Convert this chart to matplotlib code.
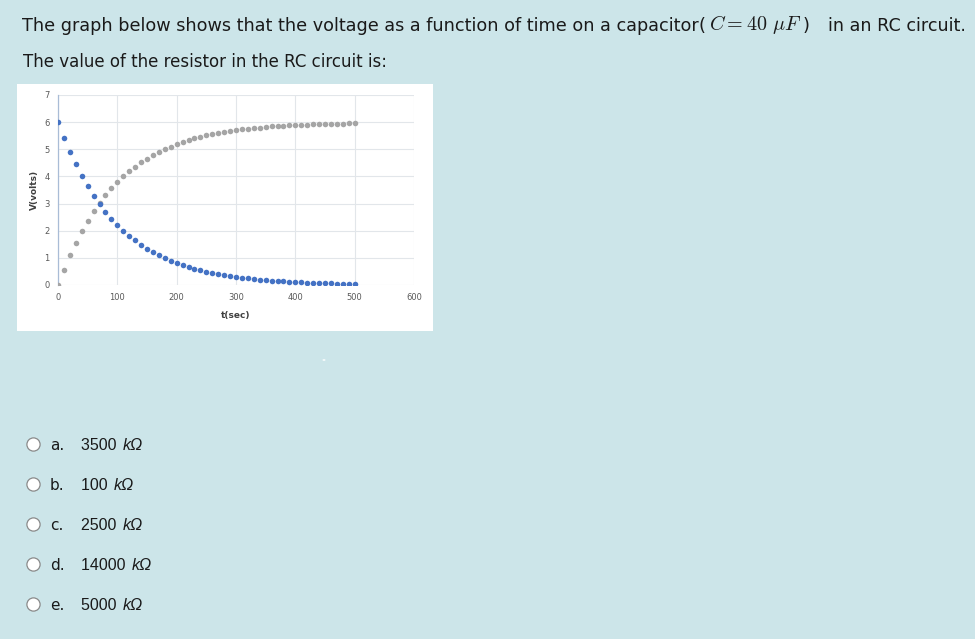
import matplotlib
matplotlib.use("Agg")
import matplotlib.pyplot as plt
from matplotlib.patches import Rectangle, Circle

# ---- data ----
t_sec = [0, 10, 20, 30, 40, 50, 60, 70, 80, 90,
         100, 110, 120, 130, 140, 150, 160, 170, 180, 190,
         200, 210, 220, 230, 240, 250, 260, 270, 280, 290,
         300, 310, 320, 330, 340, 350, 360, 370, 380, 390,
         400, 410, 420, 430, 440, 450, 460, 470, 480, 490, 500]
v_discharge = [6.00, 5.43, 4.91, 4.44, 4.02, 3.64, 3.29, 2.98, 2.70, 2.44,
               2.21, 2.00, 1.81, 1.64, 1.48, 1.34, 1.21, 1.10, 0.99, 0.90,
               0.81, 0.73, 0.66, 0.60, 0.54, 0.49, 0.45, 0.40, 0.36, 0.33,
               0.30, 0.27, 0.24, 0.22, 0.20, 0.18, 0.16, 0.15, 0.13, 0.12,
               0.11, 0.10, 0.09, 0.08, 0.07, 0.07, 0.06, 0.05, 0.05, 0.04, 0.04]
v_charge = [0.00, 0.57, 1.09, 1.56, 1.98, 2.36, 2.71, 3.02, 3.30, 3.56,
            3.79, 4.00, 4.19, 4.36, 4.52, 4.66, 4.79, 4.90, 5.01, 5.10,
            5.19, 5.27, 5.34, 5.40, 5.46, 5.51, 5.55, 5.60, 5.64, 5.67,
            5.70, 5.73, 5.76, 5.78, 5.80, 5.82, 5.84, 5.85, 5.87, 5.88,
            5.89, 5.90, 5.91, 5.92, 5.93, 5.93, 5.94, 5.95, 5.95, 5.96, 5.96]
x_ticks = [0, 100, 200, 300, 400, 500, 600]
y_ticks = [0, 1, 2, 3, 4, 5, 6, 7]
option_letters = ["a.", "b.", "c.", "d.", "e."]
option_values = ["3500", "100", "2500", "14000", "5000"]

W, H = 975, 639
BG = "#cce5e9"
TXT = "#1a1a1a"
fig = plt.figure(figsize=(W / 100, H / 100), dpi=100, facecolor=BG)

def fx(px):
    return px / W

def fy(py):
    return 1 - py / H

# white chart box (behind the axes)
fig.patches.append(Rectangle((fx(17), fy(331)), fx(433) - fx(17), fy(84) - fy(331),
                             transform=fig.transFigure, facecolor="white",
                             edgecolor="none", zorder=-5))

ax = fig.add_axes([fx(58), fy(285), fx(414) - fx(58), fy(95) - fy(285)])
ax.set_facecolor("white")
ax.set_xlim(0, 600)
ax.set_ylim(0, 7)
ax.set_xticks(x_ticks)
ax.set_yticks(y_ticks)
ax.grid(True, color="#e2e6ea", linewidth=0.8)
ax.set_axisbelow(True)
for s in ["top", "right", "bottom"]:
    ax.spines[s].set_visible(False)
ax.spines["left"].set_color("#a9bcd6")
ax.spines["left"].set_linewidth(0.9)
ax.tick_params(length=0, labelsize=6, labelcolor="#595959", pad=6)
ax.set_xlabel("t(sec)", fontsize=6.5, color="#404040", fontweight="bold", labelpad=6)
ax.set_ylabel("V(volts)", fontsize=6.5, color="#404040", fontweight="bold", labelpad=4)

ax.scatter(t_sec, v_charge, s=16, color="#a5a5a5", zorder=3, linewidths=0)
ax.scatter(t_sec, v_discharge, s=16, color="#4472c4", zorder=3, linewidths=0)

fig.canvas.draw()
renderer = fig.canvas.get_renderer()

def fit_text(x0, x1, y, s, family, base=12.0):
    t = fig.text(fx(x0), fy(y), s, fontsize=base, family=family, color=TXT,
                 va="center", ha="left")
    w = t.get_window_extent(renderer).width
    t.set_fontsize(base * (x1 - x0) / w)
    return t

hfont = ["DejaVu Sans"]
fit_text(22, 693, 26, "The graph below shows that the voltage as a function of time on a capacitor", hfont)
fig.text(fx(698), fy(26), "(", fontsize=13, family=hfont, color=TXT, va="center", ha="left")
fig.text(fx(709), fy(25), r"$C = 40\ \mu F$", fontsize=14.5, math_fontfamily="cm",
         color=TXT, va="center", ha="left")
fig.text(fx(803), fy(26), ")", fontsize=13, family=hfont, color=TXT, va="center", ha="left")
fit_text(828, 965, 26, "in an RC circuit.", hfont)
fit_text(23, 387, 62, "The value of the resistor in the RC circuit is:", hfont)

# faint white dot artifact
fig.patches.append(Circle((fx(324), fy(360)), 1.5 / W, transform=fig.transFigure,
                          facecolor="white", edgecolor="none", alpha=0.8, zorder=-4))

# options
ys = [444, 484, 524, 564, 604]
for letter, val, y in zip(option_letters, option_values, ys):
    fig.add_artist(plt.Line2D([fx(33)], [fy(y)], marker="o", markersize=9.5,
                              markerfacecolor="white", markeredgecolor="#8a8a8a",
                              markeredgewidth=0.9, transform=fig.transFigure))
    fig.text(fx(50), fy(y + 1), letter, fontsize=11, family=hfont, color=TXT,
             va="center", ha="left")
    t = fig.text(fx(81), fy(y + 1), val + " ", fontsize=11.5, family="Liberation Sans",
                 color=TXT, va="center", ha="left")
    bb = t.get_window_extent(renderer)
    fig.text(bb.x1 / W + 1.5 / W, fy(y + 1), "kΩ", fontsize=11.5, family="Liberation Sans",
             style="italic", color=TXT, va="center", ha="left")

fig.savefig("out.png", dpi=100, facecolor=BG)
